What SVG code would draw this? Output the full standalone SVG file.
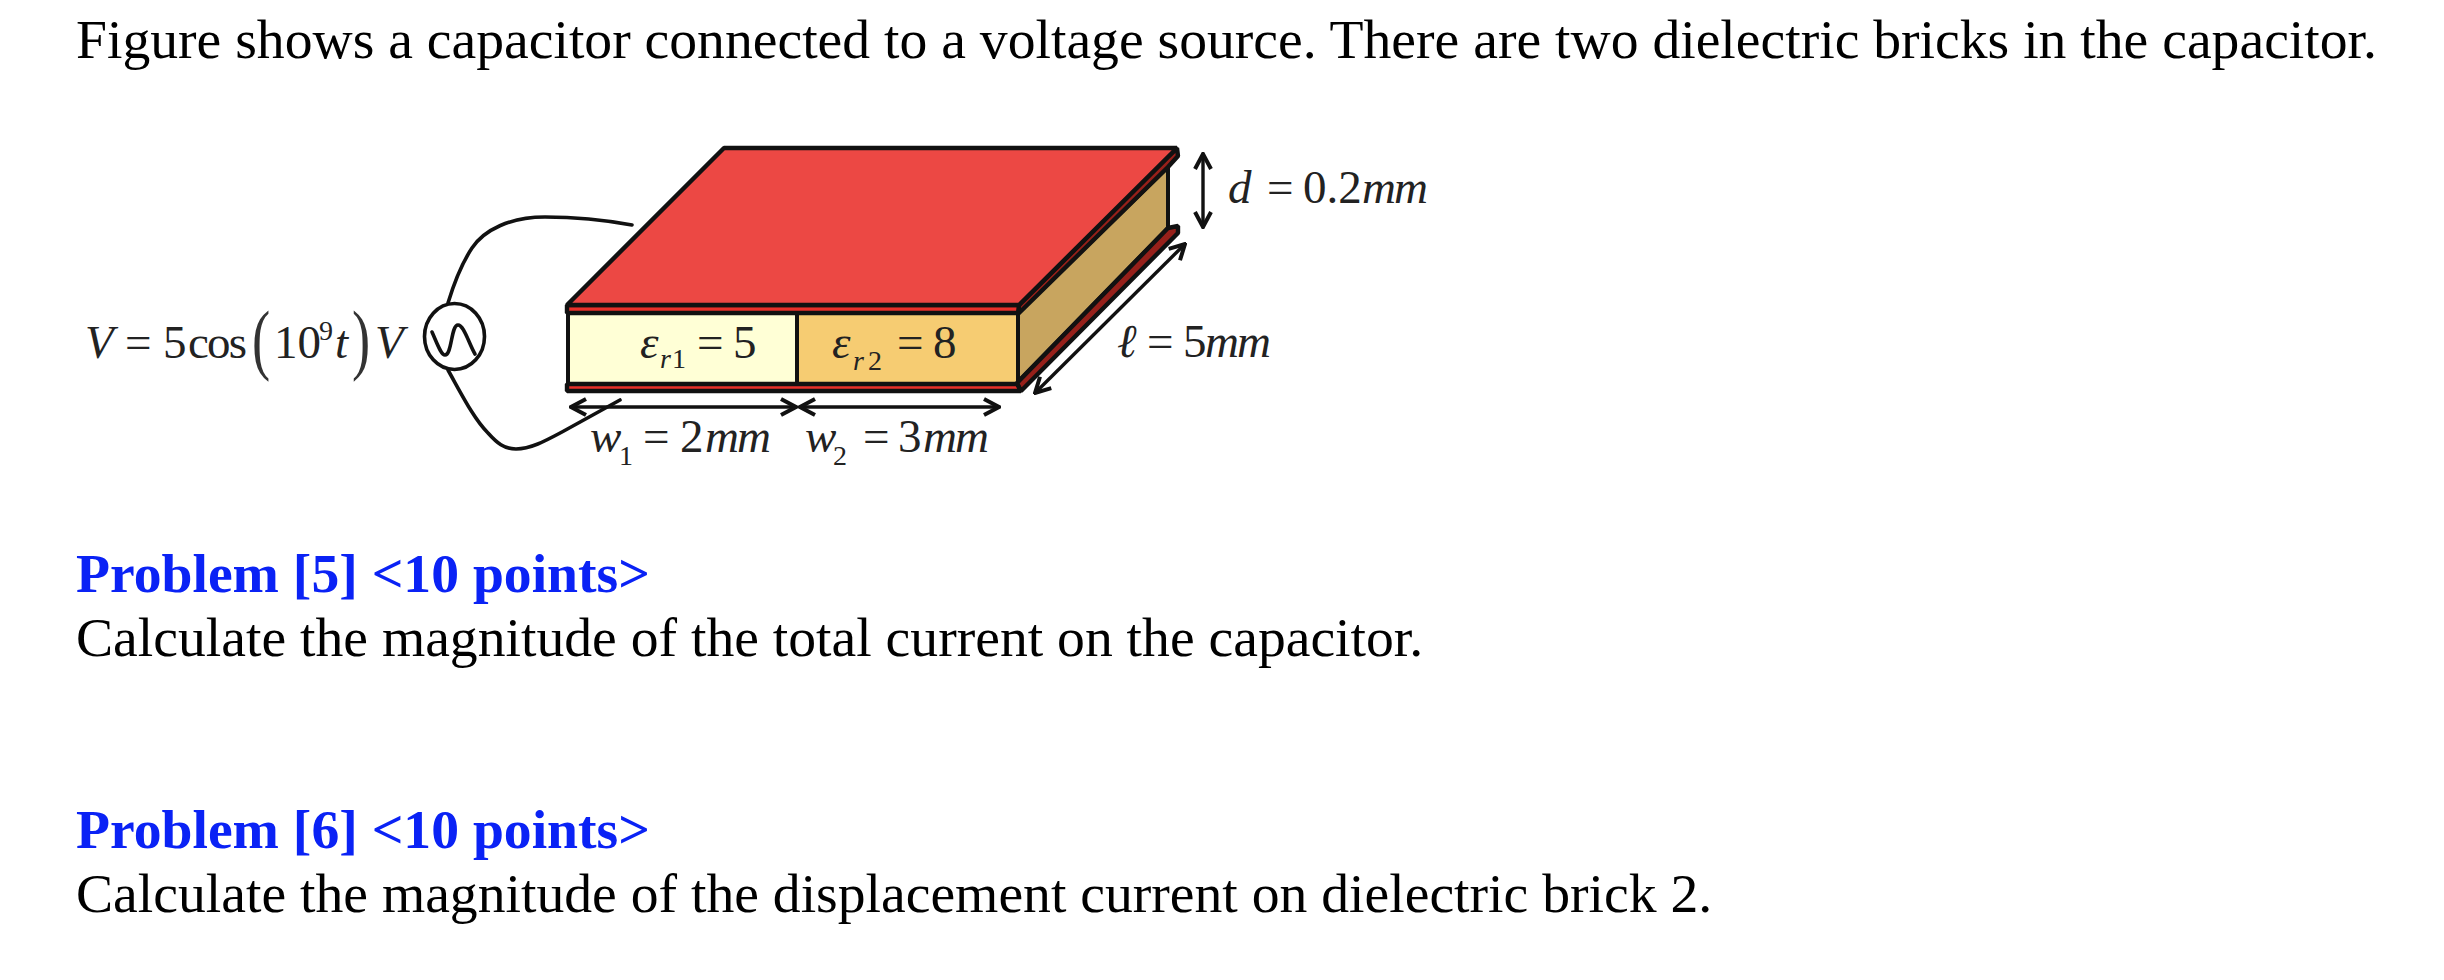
<svg xmlns="http://www.w3.org/2000/svg" width="2444" height="980" viewBox="0 0 2444 980">
<defs>
<style>
text{font-family:"Liberation Serif","Times New Roman",serif}
.body{font-size:55.65px;fill:#000}
.head{font-size:55.65px;font-weight:bold;fill:#0a22f5}
.m{font-size:47px;fill:#222}
.i{font-style:italic}
.s{font-size:28px;fill:#222}
.p{font-size:78px;fill:#333}
.o{stroke:#111;stroke-width:4.4;stroke-linejoin:bevel}
.w{fill:none;stroke:#111;stroke-width:3.6;stroke-linecap:round}
.a{fill:none;stroke:#111;stroke-width:3.4;marker-start:url(#h);marker-end:url(#h)}
</style>
<marker id="h" viewBox="0 0 20 20" refX="18" refY="10" markerWidth="20" markerHeight="20" markerUnits="userSpaceOnUse" orient="auto-start-reverse"><path d="M3 2 L18 10 L3 18" fill="none" stroke="#111" stroke-width="4"/></marker>
</defs>
<rect width="2444" height="980" fill="#fff"/>
<text class="body" x="76" y="58">Figure shows a capacitor connected to a voltage source. There are two dielectric bricks in the capacitor.</text>
<g id="capacitor">
<polygon id="side" fill="#c8a55f" stroke="#111" stroke-width="4" points="1018,313 1168,167 1168,228 1018,382"/>
<polygon id="brick1" fill="#ffffd6" stroke="#111" stroke-width="4" points="568,313 797,313 797,384 568,384"/>
<polygon id="brick2" fill="#f6cc72" stroke="#111" stroke-width="4" points="797,313 1018,313 1018,384 797,384"/>
<polygon id="bottom-side" class="o" fill="#96201a" points="1017,383 1168,228 1178,226 1178,233 1021,391"/>
<polygon id="bottom-front" class="o" fill="#e8302a" points="567,384 1017,384 1021,391 567,391"/>
<polygon id="top-side" class="o" fill="#96201a" points="1019,305 1177,148 1178,156 1168,167 1018,314"/>
<polygon id="top-front" class="o" fill="#e8302a" points="567,305 1019,305 1018,313 567,313"/>
<polygon id="top" class="o" fill="#ec4844" points="567,305 724,148 1177,148 1019,305"/>
</g>
<g id="source">
<ellipse cx="454.5" cy="336.5" rx="30" ry="33" fill="#fff" stroke="#111" stroke-width="3.6"/>
<path class="w" d="M432 332 C437 343 441 355 445 355 C452 355 451 325 458 325 C464 325 469 344 475 354"/>
</g>
<g id="connectors">
<path class="w" d="M448 303 C455 280 462 263 472 248 C484 230 510 217 545 217 C580 217 605 220 632 225"/>
<path class="w" d="M448 370 C462 395 474 419 488 433 C497 443 504 449 516 449 C531 449 547 440 562 432 L620 400"/>
<path class="a" d="M571 407 L796 407"/>
<path class="a" d="M800 407 L999 407"/>
<path class="a" d="M1203 154 L1203 227"/>
<path class="a" d="M1035 393 L1185 244"/>
</g>
<g id="labels">
<text class="m i" x="85" y="358">V</text><text class="m" x="125" y="358">=</text><text class="m" x="163" y="358">5</text><text class="m" x="188" y="358" textLength="59">cos</text>
<text class="p" transform="translate(252,365) scale(.7,1)">(</text><text class="m" x="274" y="358">10</text><text class="s" x="319" y="340">9</text><text class="m i" x="335" y="358">t</text><text class="p" transform="translate(352,365) scale(.7,1)">)</text><text class="m i" x="375" y="358">V</text>
<text class="m i" x="640" y="358">ε</text><text class="s i" x="660" y="368">r</text><text class="s" x="672" y="368">1</text><text class="m" x="697" y="358">=</text><text class="m" x="733" y="358">5</text>
<text class="m i" x="832" y="358">ε</text><text class="s i" x="853" y="370">r</text><text class="s" x="868" y="370">2</text><text class="m" x="897" y="358">=</text><text class="m" x="933" y="358">8</text>
<text class="m i" x="590" y="452">w</text><text class="s" x="619" y="465">1</text><text class="m" x="643" y="452">=</text><text class="m" x="680" y="452">2</text><text class="m i" x="705" y="452" textLength="66">mm</text>
<text class="m i" x="805" y="452">w</text><text class="s" x="833" y="465">2</text><text class="m" x="863" y="452">=</text><text class="m" x="898" y="452">3</text><text class="m i" x="923" y="452" textLength="66">mm</text>
<text class="m i" x="1228" y="203">d</text><text class="m" x="1267" y="203">=</text><text class="m" x="1303" y="203">0.2</text><text class="m i" x="1362" y="203" textLength="66">mm</text>
<text class="m i" x="1117" y="357">ℓ</text><text class="m" x="1147" y="357">=</text><text class="m" x="1183" y="357">5</text><text class="m i" x="1205" y="357" textLength="66">mm</text>
</g>
<text class="head" x="76" y="592">Problem [5] &lt;10 points&gt;</text>
<text class="body" x="76" y="656">Calculate the magnitude of the total current on the capacitor.</text>
<text class="head" x="76" y="848">Problem [6] &lt;10 points&gt;</text>
<text class="body" x="76" y="912">Calculate the magnitude of the displacement current on dielectric brick 2.</text>
</svg>
